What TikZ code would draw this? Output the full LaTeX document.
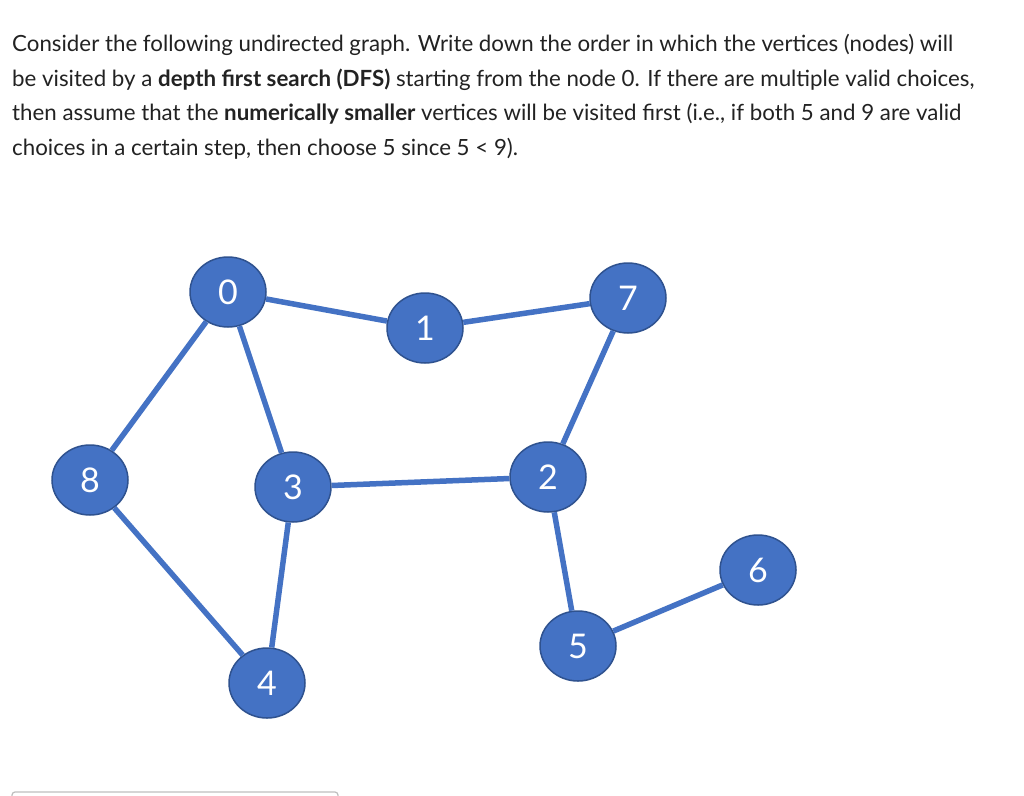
\documentclass[tikz,border=0pt]{standalone}
\usepackage{fontspec}
\setmainfont{Lato}
\usetikzlibrary{shapes.geometric}
\definecolor{nodefill}{HTML}{4472C4}
\definecolor{nodedraw}{HTML}{2F528F}
\definecolor{txt}{HTML}{222222}
\begin{document}
\begin{tikzpicture}[x=1pt,y=-1pt,
  vert/.style={ellipse,fill=nodefill,draw=nodedraw,line width=1.5pt,minimum width=76pt,minimum height=70pt,inner sep=0pt,text=white,font=\fontsize{34}{36}\selectfont},
  edge/.style={nodefill,line width=5.5pt},
  line/.style={anchor=west,inner sep=0pt,text=txt,font=\fontsize{22.3}{26}\selectfont}]
\useasboundingbox (0,0) rectangle (1024,795);
\fill[white] (0,0) rectangle (1024,795);
\node[line] (l1) at (12,45) {Consider the following undirected graph. Write down the order in which the vertices (nodes) will};
\node[line] (l2) at (12,80) {be visited by a \textbf{depth first search (DFS)} starting from the node 0. If there are multiple valid choices,};
\node[line] (l3) at (12,114) {then assume that the \textbf{numerically smaller} vertices will be visited first (i.e., if both 5 and 9 are valid};
\node[line] (l4) at (12,149) {choices in a certain step, then choose 5 since 5 < 9).};
\node[vert] (n0) at (228,292) {0};
\node[vert] (n1) at (425,328) {1};
\node[vert] (n7) at (628,298) {7};
\node[vert] (n8) at (90,480) {8};
\node[vert] (n3) at (293,487) {3};
\node[vert] (n2) at (548,477) {2};
\node[vert] (n6) at (758,570) {6};
\node[vert] (n5) at (578,646) {5};
\node[vert] (n4) at (267,683) {4};
\draw[edge] (n0) -- (n1);
\draw[edge] (n1) -- (n7);
\draw[edge] (n0) -- (n8);
\draw[edge] (n0) -- (n3);
\draw[edge] (n7) -- (n2);
\draw[edge] (n3) -- (n2);
\draw[edge] (n8) -- (n4);
\draw[edge] (n3) -- (n4);
\draw[edge] (n2) -- (n5);
\draw[edge] (n5) -- (n6);
\draw[black!25,line width=1.2pt,rounded corners=3pt] (12,800) -- (12,792) -- (338,792) -- (338,800);
\end{tikzpicture}
\end{document}
